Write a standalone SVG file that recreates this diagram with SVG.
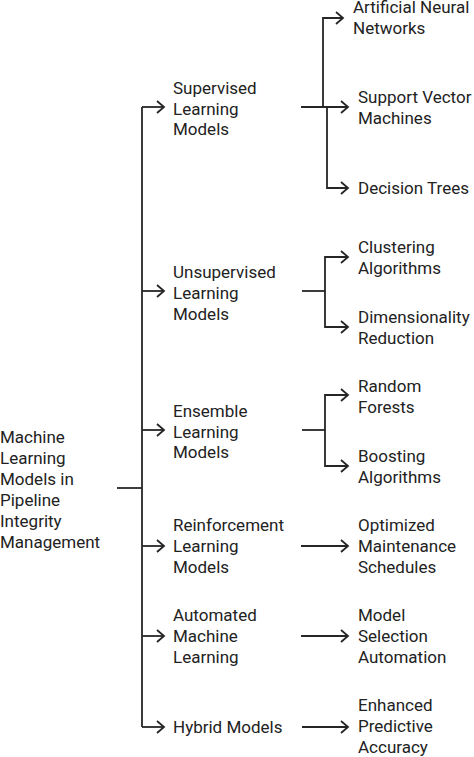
<svg xmlns="http://www.w3.org/2000/svg" width="474" height="757" viewBox="0 0 474 757">
<style>
text { font-family: Roboto, "Liberation Sans", sans-serif; font-size: 17px; fill: #222; }
.c { fill: none; stroke: #262626; stroke-width: 1.8; }
.a { fill: none; stroke: #262626; stroke-width: 1.8; marker-end: url(#ah); }
</style>
<defs>
<marker id="ah" markerUnits="userSpaceOnUse" markerWidth="12" markerHeight="16" refX="8" refY="7" orient="auto" viewBox="0 0 12 14">
<polyline points="1,1 8,7 1,13" fill="none" stroke="#262626" stroke-width="1.8"/>
</marker>
</defs>
<g id="connectors">
<path class="c" d="M117,488 H142"/>
<path class="c" d="M142,107 V727"/>
<path class="a" d="M142,107 H164"/>
<path class="a" d="M142,291 H164"/>
<path class="a" d="M142,430 H164"/>
<path class="a" d="M142,546 H164"/>
<path class="a" d="M142,636 H164"/>
<path class="a" d="M142,727 H164"/>
<path class="a" d="M301,107 H348"/>
<path class="a" d="M323,107 V18 H343"/>
<path class="a" d="M327,107 V188 H348"/>
<path class="c" d="M302,291 H325"/>
<path class="a" d="M325,291 V257 H348"/>
<path class="a" d="M325,291 V327 H348"/>
<path class="c" d="M302,430 H325"/>
<path class="a" d="M325,430 V395 H348"/>
<path class="a" d="M325,430 V466 H348"/>
<path class="a" d="M301,546 H348"/>
<path class="a" d="M301,636 H348"/>
<path class="a" d="M302,727 H348"/>
</g>
<g id="root"><text x="0" y="443">Machine</text><text x="0" y="464">Learning</text><text x="0" y="485">Models in</text><text x="0" y="506">Pipeline</text><text x="0" y="527">Integrity</text><text x="0" y="548">Management</text></g>
<g id="supervised"><text x="173" y="94">Supervised</text><text x="173" y="115">Learning</text><text x="173" y="135">Models</text></g>
<g id="unsupervised"><text x="173" y="278">Unsupervised</text><text x="173" y="299">Learning</text><text x="173" y="320">Models</text></g>
<g id="ensemble"><text x="173" y="417">Ensemble</text><text x="173" y="438">Learning</text><text x="173" y="458">Models</text></g>
<g id="reinforcement"><text x="173" y="531">Reinforcement</text><text x="173" y="552">Learning</text><text x="173" y="573">Models</text></g>
<g id="automl"><text x="173" y="621">Automated</text><text x="173" y="642">Machine</text><text x="173" y="663">Learning</text></g>
<g id="hybrid"><text x="173" y="733">Hybrid Models</text></g>
<g id="ann"><text x="353" y="13">Artificial Neural</text><text x="353" y="34">Networks</text></g>
<g id="svm"><text x="358" y="103">Support Vector</text><text x="358" y="124">Machines</text></g>
<g id="dt"><text x="358" y="194">Decision Trees</text></g>
<g id="clustering"><text x="358" y="253">Clustering</text><text x="358" y="274">Algorithms</text></g>
<g id="dimred"><text x="358" y="323">Dimensionality</text><text x="358" y="344">Reduction</text></g>
<g id="rf"><text x="358" y="392">Random</text><text x="358" y="413">Forests</text></g>
<g id="boosting"><text x="358" y="462">Boosting</text><text x="358" y="483">Algorithms</text></g>
<g id="oms"><text x="358" y="531">Optimized</text><text x="358" y="552">Maintenance</text><text x="358" y="573">Schedules</text></g>
<g id="msa"><text x="358" y="621">Model</text><text x="358" y="642">Selection</text><text x="358" y="663">Automation</text></g>
<g id="epa"><text x="358" y="711">Enhanced</text><text x="358" y="732">Predictive</text><text x="358" y="753">Accuracy</text></g>
</svg>
